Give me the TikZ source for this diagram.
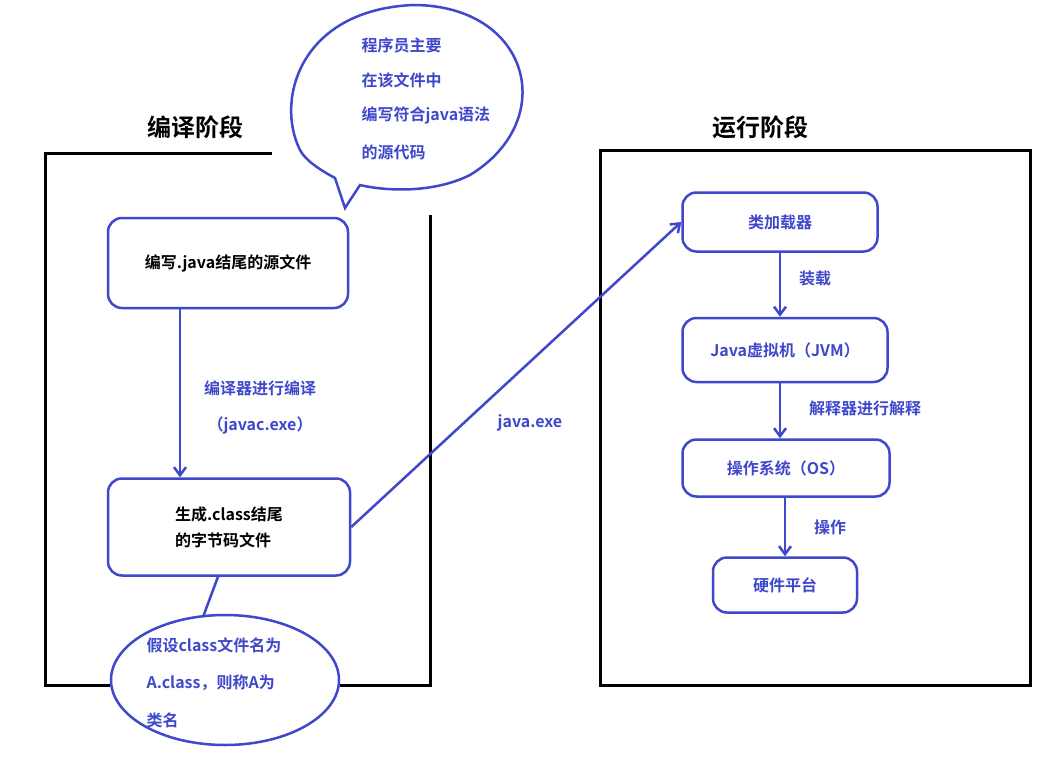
\documentclass[tikz,border=0pt]{standalone}
\usepackage{fontspec}
\setmainfont{Noto Sans CJK SC}[BoldFont={Noto Sans CJK SC Bold}]
\usetikzlibrary{arrows.meta,shapes.geometric}
\definecolor{pb}{HTML}{3F48CC}
\begin{document}
\begin{tikzpicture}[x=1pt,y=-1pt,
  box/.style={draw=pb,line width=2.5pt,rounded corners=14pt,inner sep=0pt},
  bt/.style={font=\fontsize{16}{18}\selectfont\bfseries,text=pb},
  kt/.style={font=\fontsize{16}{18}\selectfont\bfseries,text=black},
  ar/.style={draw=pb,line width=2.5pt,-{Straight Barb[length=8pt,width=12pt]}},
  frame/.style={line width=3pt,black},
  ttl/.style={font=\fontsize{24}{28}\selectfont\bfseries}]
\useasboundingbox[fill=white] (0,0) rectangle (1038,760);
% frames
\draw[frame] (272,153) -- (45,153) -- (45,685) -- (110,685);
\draw[frame] (430,215) -- (430,685) -- (340,685);
\draw[frame] (600,150) rectangle (1030,685);
\node[ttl] (t1) at (195,127) {编译阶段};
\node[ttl] (t2) at (760,127) {运行阶段};
% bubble
\draw[draw=pb,line width=2.5pt,fill=white] (300,150) .. controls (275,100) and (300,10) .. (413,5)
  .. controls (530,5) and (560,120) .. (470,175) .. controls (430,195) and (380,190) .. (360,185)
  -- (345,208) -- (335,178) .. controls (320,170) and (305,160) .. (300,150);
\node[bt,anchor=west] (b1) at (358,45) {程序员主要};
\node[bt,anchor=west] (b2) at (358,80) {在该文件中};
\node[bt,anchor=west] (b3) at (358,115) {编写符合java语法};
\node[bt,anchor=west] (b4) at (358,152) {的源代码};
% left nodes
\node[box,minimum width=240pt,minimum height=90pt,kt] (src) at (228,263) {编写.java结尾的源文件};
\node[box,minimum width=242pt,minimum height=97pt,kt,align=left] (cls) at (229,527) {生成.class结尾\\[8pt]的字节码文件};
\draw[ar] (src.south -| 180,0) -- (cls.north -| 180,0);
\node[bt] (l1) at (260,388) {编译器进行编译};
\node[bt] (l2) at (260,425) {（javac.exe）};
\node[draw=pb,line width=2.5pt,ellipse,minimum width=228pt,minimum height=130pt,fill=white] (ell) at (225,680) {};
\draw[draw=pb,line width=2.5pt] (cls.south -| 218,0) -- (203,617);
\node[bt,anchor=west] (e1) at (143,645) {假设class文件名为};
\node[bt,anchor=west] (e2) at (143,683) {A.class，则称A为};
\node[bt,anchor=west] (e3) at (143,720) {类名};
% right nodes
\node[box,minimum width=195pt,minimum height=59pt,bt] (cl) at (780,222) {类加载器};
\node[box,minimum width=205pt,minimum height=64pt,bt] (jvm) at (785,350) {Java虚拟机（JVM）};
\node[box,minimum width=207pt,minimum height=57pt,bt] (os) at (786,468) {操作系统（OS）};
\node[box,minimum width=144pt,minimum height=55pt,bt] (hw) at (785,585) {硬件平台};
\draw[ar] (cl.south -| 780,0) -- (jvm.north -| 780,0);
\draw[ar] (jvm.south -| 780,0) -- (os.north -| 780,0);
\draw[ar] (os.south -| 785,0) -- (hw.north -| 785,0);
\node[bt] (a1) at (815,278) {装载};
\node[bt] (a2) at (865,408) {解释器进行解释};
\node[bt] (a3) at (830,527) {操作};
\draw[ar] (cls.east) -- (cl.west);
\node[bt] (je) at (530,423) {java.exe};
\end{tikzpicture}
\end{document}
